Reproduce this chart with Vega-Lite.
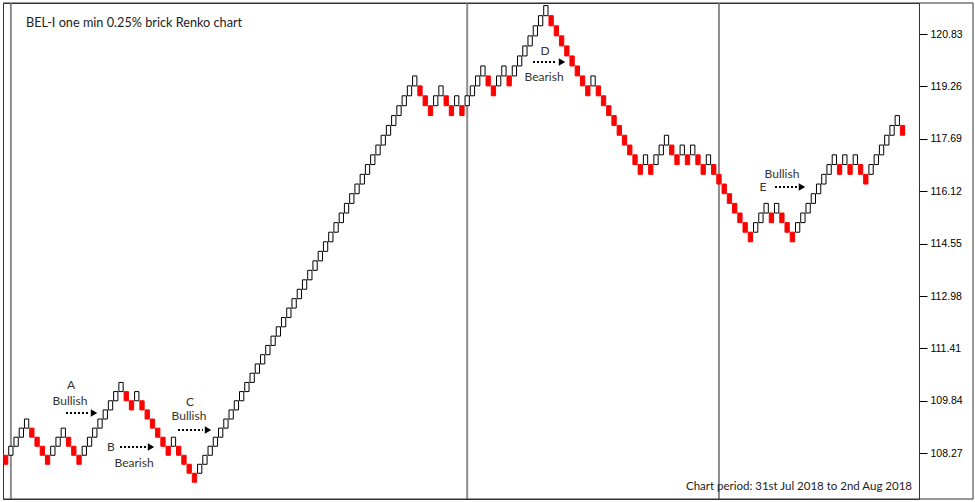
{
  "$schema": "https://vega.github.io/schema/vega-lite/v6.json",
  "width": 916,
  "height": 496,
  "autosize": "none",
  "padding": {"left": 3, "top": 3, "right": 56, "bottom": 3},
  "background": "white",
  "config": {"view": {"stroke": "#333333", "strokeWidth": 1}, "scale": {"continuousPadding": 0}},
  "datasets": {
    "bricks": [
      {"n":1,"lo":107.94,"hi":108.21,"d":"d"},
      {"n":2,"lo":108.21,"hi":108.48,"d":"u"},
      {"n":3,"lo":108.48,"hi":108.751,"d":"u"},
      {"n":4,"lo":108.751,"hi":109.023,"d":"u"},
      {"n":5,"lo":109.023,"hi":109.296,"d":"u"},
      {"n":6,"lo":108.751,"hi":109.023,"d":"d"},
      {"n":7,"lo":108.48,"hi":108.751,"d":"d"},
      {"n":8,"lo":108.21,"hi":108.48,"d":"d"},
      {"n":9,"lo":107.94,"hi":108.21,"d":"d"},
      {"n":10,"lo":108.21,"hi":108.48,"d":"u"},
      {"n":11,"lo":108.48,"hi":108.751,"d":"u"},
      {"n":12,"lo":108.751,"hi":109.023,"d":"u"},
      {"n":13,"lo":108.48,"hi":108.751,"d":"d"},
      {"n":14,"lo":108.21,"hi":108.48,"d":"d"},
      {"n":15,"lo":107.94,"hi":108.21,"d":"d"},
      {"n":16,"lo":108.21,"hi":108.48,"d":"u"},
      {"n":17,"lo":108.48,"hi":108.751,"d":"u"},
      {"n":18,"lo":108.751,"hi":109.023,"d":"u"},
      {"n":19,"lo":109.023,"hi":109.296,"d":"u"},
      {"n":20,"lo":109.296,"hi":109.569,"d":"u"},
      {"n":21,"lo":109.569,"hi":109.843,"d":"u"},
      {"n":22,"lo":109.843,"hi":110.118,"d":"u"},
      {"n":23,"lo":110.118,"hi":110.393,"d":"u"},
      {"n":24,"lo":109.843,"hi":110.118,"d":"d"},
      {"n":25,"lo":109.569,"hi":109.843,"d":"d"},
      {"n":26,"lo":109.843,"hi":110.118,"d":"u"},
      {"n":27,"lo":109.569,"hi":109.843,"d":"d"},
      {"n":28,"lo":109.296,"hi":109.569,"d":"d"},
      {"n":29,"lo":109.023,"hi":109.296,"d":"d"},
      {"n":30,"lo":108.751,"hi":109.023,"d":"d"},
      {"n":31,"lo":108.48,"hi":108.751,"d":"d"},
      {"n":32,"lo":108.21,"hi":108.48,"d":"d"},
      {"n":33,"lo":108.48,"hi":108.751,"d":"u"},
      {"n":34,"lo":108.21,"hi":108.48,"d":"d"},
      {"n":35,"lo":107.94,"hi":108.21,"d":"d"},
      {"n":36,"lo":107.671,"hi":107.94,"d":"d"},
      {"n":37,"lo":107.402,"hi":107.671,"d":"d"},
      {"n":38,"lo":107.671,"hi":107.94,"d":"u"},
      {"n":39,"lo":107.94,"hi":108.21,"d":"u"},
      {"n":40,"lo":108.21,"hi":108.48,"d":"u"},
      {"n":41,"lo":108.48,"hi":108.751,"d":"u"},
      {"n":42,"lo":108.751,"hi":109.023,"d":"u"},
      {"n":43,"lo":109.023,"hi":109.296,"d":"u"},
      {"n":44,"lo":109.296,"hi":109.569,"d":"u"},
      {"n":45,"lo":109.569,"hi":109.843,"d":"u"},
      {"n":46,"lo":109.843,"hi":110.118,"d":"u"},
      {"n":47,"lo":110.118,"hi":110.393,"d":"u"},
      {"n":48,"lo":110.393,"hi":110.669,"d":"u"},
      {"n":49,"lo":110.669,"hi":110.946,"d":"u"},
      {"n":50,"lo":110.946,"hi":111.223,"d":"u"},
      {"n":51,"lo":111.223,"hi":111.501,"d":"u"},
      {"n":52,"lo":111.501,"hi":111.78,"d":"u"},
      {"n":53,"lo":111.78,"hi":112.059,"d":"u"},
      {"n":54,"lo":112.059,"hi":112.339,"d":"u"},
      {"n":55,"lo":112.339,"hi":112.62,"d":"u"},
      {"n":56,"lo":112.62,"hi":112.902,"d":"u"},
      {"n":57,"lo":112.902,"hi":113.184,"d":"u"},
      {"n":58,"lo":113.184,"hi":113.467,"d":"u"},
      {"n":59,"lo":113.467,"hi":113.751,"d":"u"},
      {"n":60,"lo":113.751,"hi":114.035,"d":"u"},
      {"n":61,"lo":114.035,"hi":114.32,"d":"u"},
      {"n":62,"lo":114.32,"hi":114.606,"d":"u"},
      {"n":63,"lo":114.606,"hi":114.893,"d":"u"},
      {"n":64,"lo":114.893,"hi":115.18,"d":"u"},
      {"n":65,"lo":115.18,"hi":115.468,"d":"u"},
      {"n":66,"lo":115.468,"hi":115.757,"d":"u"},
      {"n":67,"lo":115.757,"hi":116.046,"d":"u"},
      {"n":68,"lo":116.046,"hi":116.336,"d":"u"},
      {"n":69,"lo":116.336,"hi":116.627,"d":"u"},
      {"n":70,"lo":116.627,"hi":116.919,"d":"u"},
      {"n":71,"lo":116.919,"hi":117.211,"d":"u"},
      {"n":72,"lo":117.211,"hi":117.504,"d":"u"},
      {"n":73,"lo":117.504,"hi":117.798,"d":"u"},
      {"n":74,"lo":117.798,"hi":118.092,"d":"u"},
      {"n":75,"lo":118.092,"hi":118.387,"d":"u"},
      {"n":76,"lo":118.387,"hi":118.683,"d":"u"},
      {"n":77,"lo":118.683,"hi":118.98,"d":"u"},
      {"n":78,"lo":118.98,"hi":119.277,"d":"u"},
      {"n":79,"lo":119.277,"hi":119.575,"d":"u"},
      {"n":80,"lo":118.98,"hi":119.277,"d":"d"},
      {"n":81,"lo":118.683,"hi":118.98,"d":"d"},
      {"n":82,"lo":118.387,"hi":118.683,"d":"d"},
      {"n":83,"lo":118.683,"hi":118.98,"d":"u"},
      {"n":84,"lo":118.98,"hi":119.277,"d":"u"},
      {"n":85,"lo":118.683,"hi":118.98,"d":"d"},
      {"n":86,"lo":118.387,"hi":118.683,"d":"d"},
      {"n":87,"lo":118.683,"hi":118.98,"d":"u"},
      {"n":88,"lo":118.387,"hi":118.683,"d":"d"},
      {"n":89,"lo":118.683,"hi":118.98,"d":"u"},
      {"n":90,"lo":118.98,"hi":119.277,"d":"u"},
      {"n":91,"lo":119.277,"hi":119.575,"d":"u"},
      {"n":92,"lo":119.575,"hi":119.874,"d":"u"},
      {"n":93,"lo":119.277,"hi":119.575,"d":"d"},
      {"n":94,"lo":118.98,"hi":119.277,"d":"d"},
      {"n":95,"lo":119.277,"hi":119.575,"d":"u"},
      {"n":96,"lo":119.575,"hi":119.874,"d":"u"},
      {"n":97,"lo":119.277,"hi":119.575,"d":"d"},
      {"n":98,"lo":119.575,"hi":119.874,"d":"u"},
      {"n":99,"lo":119.874,"hi":120.174,"d":"u"},
      {"n":100,"lo":120.174,"hi":120.474,"d":"u"},
      {"n":101,"lo":120.474,"hi":120.775,"d":"u"},
      {"n":102,"lo":120.775,"hi":121.077,"d":"u"},
      {"n":103,"lo":121.077,"hi":121.38,"d":"u"},
      {"n":104,"lo":121.38,"hi":121.683,"d":"u"},
      {"n":105,"lo":121.077,"hi":121.38,"d":"d"},
      {"n":106,"lo":120.775,"hi":121.077,"d":"d"},
      {"n":107,"lo":120.474,"hi":120.775,"d":"d"},
      {"n":108,"lo":120.174,"hi":120.474,"d":"d"},
      {"n":109,"lo":119.874,"hi":120.174,"d":"d"},
      {"n":110,"lo":119.575,"hi":119.874,"d":"d"},
      {"n":111,"lo":119.277,"hi":119.575,"d":"d"},
      {"n":112,"lo":118.98,"hi":119.277,"d":"d"},
      {"n":113,"lo":119.277,"hi":119.575,"d":"u"},
      {"n":114,"lo":118.98,"hi":119.277,"d":"d"},
      {"n":115,"lo":118.683,"hi":118.98,"d":"d"},
      {"n":116,"lo":118.387,"hi":118.683,"d":"d"},
      {"n":117,"lo":118.092,"hi":118.387,"d":"d"},
      {"n":118,"lo":117.798,"hi":118.092,"d":"d"},
      {"n":119,"lo":117.504,"hi":117.798,"d":"d"},
      {"n":120,"lo":117.211,"hi":117.504,"d":"d"},
      {"n":121,"lo":116.919,"hi":117.211,"d":"d"},
      {"n":122,"lo":116.627,"hi":116.919,"d":"d"},
      {"n":123,"lo":116.919,"hi":117.211,"d":"u"},
      {"n":124,"lo":116.627,"hi":116.919,"d":"d"},
      {"n":125,"lo":116.919,"hi":117.211,"d":"u"},
      {"n":126,"lo":117.211,"hi":117.504,"d":"u"},
      {"n":127,"lo":117.504,"hi":117.798,"d":"u"},
      {"n":128,"lo":117.211,"hi":117.504,"d":"d"},
      {"n":129,"lo":116.919,"hi":117.211,"d":"d"},
      {"n":130,"lo":117.211,"hi":117.504,"d":"u"},
      {"n":131,"lo":116.919,"hi":117.211,"d":"d"},
      {"n":132,"lo":117.211,"hi":117.504,"d":"u"},
      {"n":133,"lo":116.919,"hi":117.211,"d":"d"},
      {"n":134,"lo":116.627,"hi":116.919,"d":"d"},
      {"n":135,"lo":116.919,"hi":117.211,"d":"u"},
      {"n":136,"lo":116.627,"hi":116.919,"d":"d"},
      {"n":137,"lo":116.336,"hi":116.627,"d":"d"},
      {"n":138,"lo":116.046,"hi":116.336,"d":"d"},
      {"n":139,"lo":115.757,"hi":116.046,"d":"d"},
      {"n":140,"lo":115.468,"hi":115.757,"d":"d"},
      {"n":141,"lo":115.18,"hi":115.468,"d":"d"},
      {"n":142,"lo":114.893,"hi":115.18,"d":"d"},
      {"n":143,"lo":114.606,"hi":114.893,"d":"d"},
      {"n":144,"lo":114.893,"hi":115.18,"d":"u"},
      {"n":145,"lo":115.18,"hi":115.468,"d":"u"},
      {"n":146,"lo":115.468,"hi":115.757,"d":"u"},
      {"n":147,"lo":115.18,"hi":115.468,"d":"d"},
      {"n":148,"lo":115.468,"hi":115.757,"d":"u"},
      {"n":149,"lo":115.18,"hi":115.468,"d":"d"},
      {"n":150,"lo":114.893,"hi":115.18,"d":"d"},
      {"n":151,"lo":114.606,"hi":114.893,"d":"d"},
      {"n":152,"lo":114.893,"hi":115.18,"d":"u"},
      {"n":153,"lo":115.18,"hi":115.468,"d":"u"},
      {"n":154,"lo":115.468,"hi":115.757,"d":"u"},
      {"n":155,"lo":115.757,"hi":116.046,"d":"u"},
      {"n":156,"lo":116.046,"hi":116.336,"d":"u"},
      {"n":157,"lo":116.336,"hi":116.627,"d":"u"},
      {"n":158,"lo":116.627,"hi":116.919,"d":"u"},
      {"n":159,"lo":116.919,"hi":117.211,"d":"u"},
      {"n":160,"lo":116.627,"hi":116.919,"d":"d"},
      {"n":161,"lo":116.919,"hi":117.211,"d":"u"},
      {"n":162,"lo":116.627,"hi":116.919,"d":"d"},
      {"n":163,"lo":116.919,"hi":117.211,"d":"u"},
      {"n":164,"lo":116.627,"hi":116.919,"d":"d"},
      {"n":165,"lo":116.336,"hi":116.627,"d":"d"},
      {"n":166,"lo":116.627,"hi":116.919,"d":"u"},
      {"n":167,"lo":116.919,"hi":117.211,"d":"u"},
      {"n":168,"lo":117.211,"hi":117.504,"d":"u"},
      {"n":169,"lo":117.504,"hi":117.798,"d":"u"},
      {"n":170,"lo":117.798,"hi":118.092,"d":"u"},
      {"n":171,"lo":118.092,"hi":118.387,"d":"u"},
      {"n":172,"lo":117.798,"hi":118.092,"d":"d"}
    ],
    "days": [{"n": 2}, {"n": 89}, {"n": 137}],
    "frame": [
      {"x1": 0.5, "x2": 185.44, "y1": 121.76, "y2": 121.76},
      {"x1": 0.5, "x2": 185.44, "y1": 106.9, "y2": 106.9},
      {"x1": 185.44, "x2": 185.44, "y1": 106.9, "y2": 121.76}
    ],
    "arrows": [
      {"a": "A", "x1": 12.51, "x2": 16.9, "y": 109.476, "hx": 17.85},
      {"a": "B", "x1": 22.81, "x2": 27.76, "y": 108.458, "hx": 28.72},
      {"a": "C", "x1": 33.87, "x2": 38.63, "y": 108.967, "hx": 39.59},
      {"a": "D", "x1": 101.55, "x2": 106.12, "y": 119.992, "hx": 107.08},
      {"a": "E", "x1": 147.69, "x2": 151.88, "y": 116.247, "hx": 152.83}
    ],
    "labels": [
      {"t": "A", "x": 13.46, "y": 110.315},
      {"t": "Bullish", "x": 13.27, "y": 109.836},
      {"t": "B", "x": 21.09, "y": 108.458},
      {"t": "Bearish", "x": 25.48, "y": 107.978},
      {"t": "C", "x": 36.15, "y": 109.806},
      {"t": "Bullish", "x": 35.96, "y": 109.387},
      {"t": "D", "x": 103.84, "y": 120.322},
      {"t": "Bearish", "x": 103.65, "y": 119.543},
      {"t": "Bullish", "x": 149.02, "y": 116.637},
      {"t": "E", "x": 145.4, "y": 116.247}
    ],
    "titles": [{"t": "BEL-I one min 0.25% brick Renko chart", "x": 4.885, "y": 121.161}],
    "periods": [{"t": "Chart period: 31st Jul 2018 to 2nd Aug 2018", "x": 173.81, "y": 107.259}]
  },
  "layer": [
    {
      "data": {"name": "days"},
      "mark": {"type": "rule", "color": "#8c8c8c", "strokeWidth": 2},
      "encoding": {
        "x": {"field": "n", "type": "quantitative", "scale": {"domain": [0.5, 175.14], "nice": false, "zero": false, "padding": 0}, "axis": null}
      }
    },
    {
      "data": {"name": "bricks"},
      "mark": {"type": "bar", "size": 4.3, "strokeWidth": 1},
      "encoding": {
        "x": {"field": "n", "type": "quantitative", "scale": {"domain": [0.5, 175.14], "nice": false, "zero": false, "padding": 0}, "axis": null},
        "y": {"field": "lo", "type": "quantitative", "scale": {"domain": [106.9, 121.76], "nice": false, "zero": false, "padding": 0},
          "axis": {"orient": "right", "values": [108.27, 109.84, 111.41, 112.98, 114.55, 116.12, 117.69, 119.26, 120.83], "format": ".2f", "title": null, "grid": false, "domain": false, "ticks": true, "tickSize": 8, "tickColor": "#000000", "tickWidth": 1, "labelFont": "Liberation Sans", "labelFontSize": 10.5, "labelColor": "#000000", "labelPadding": 3, "labelOverlap": false, "labelFlush": false}},
        "y2": {"field": "hi"},
        "fill": {"field": "d", "type": "nominal", "scale": {"domain": ["u", "d"], "range": ["#ffffff", "#ff0000"]}, "legend": null},
        "stroke": {"field": "d", "type": "nominal", "scale": {"domain": ["u", "d"], "range": ["#000000", "#ff0000"]}, "legend": null}
      }
    },
    {
      "data": {"name": "frame"},
      "mark": {"type": "rule", "color": "#333333", "strokeWidth": 1},
      "encoding": {
        "x": {"field": "x1", "type": "quantitative", "scale": {"domain": [0.5, 175.14], "nice": false, "zero": false, "padding": 0}, "axis": null},
        "x2": {"field": "x2"},
        "y": {"field": "y1", "type": "quantitative", "scale": {"domain": [106.9, 121.76], "nice": false, "zero": false, "padding": 0}},
        "y2": {"field": "y2"}
      }
    },
    {
      "data": {"name": "arrows"},
      "mark": {"type": "rule", "color": "#000000", "strokeWidth": 2, "strokeDash": [2, 2]},
      "encoding": {
        "x": {"field": "x1", "type": "quantitative", "scale": {"domain": [0.5, 175.14], "nice": false, "zero": false, "padding": 0}, "axis": null},
        "x2": {"field": "x2"},
        "y": {"field": "y", "type": "quantitative", "scale": {"domain": [106.9, 121.76], "nice": false, "zero": false, "padding": 0}}
      }
    },
    {
      "data": {"name": "arrows"},
      "mark": {"type": "point", "shape": "triangle-right", "filled": true, "color": "#000000", "size": 55, "opacity": 1},
      "encoding": {
        "x": {"field": "hx", "type": "quantitative", "scale": {"domain": [0.5, 175.14], "nice": false, "zero": false, "padding": 0}, "axis": null},
        "y": {"field": "y", "type": "quantitative", "scale": {"domain": [106.9, 121.76], "nice": false, "zero": false, "padding": 0}}
      }
    },
    {
      "data": {"name": "labels"},
      "mark": {"type": "text", "font": "Lato", "fontSize": 12, "color": "#333333", "align": "center", "baseline": "middle"},
      "encoding": {
        "x": {"field": "x", "type": "quantitative", "scale": {"domain": [0.5, 175.14], "nice": false, "zero": false, "padding": 0}, "axis": null},
        "y": {"field": "y", "type": "quantitative", "scale": {"domain": [106.9, 121.76], "nice": false, "zero": false, "padding": 0}},
        "text": {"field": "t"}
      }
    },
    {
      "data": {"name": "titles"},
      "mark": {"type": "text", "font": "Lato", "fontSize": 12.7, "color": "#222222", "align": "left", "baseline": "middle"},
      "encoding": {
        "x": {"field": "x", "type": "quantitative", "scale": {"domain": [0.5, 175.14], "nice": false, "zero": false, "padding": 0}, "axis": null},
        "y": {"field": "y", "type": "quantitative", "scale": {"domain": [106.9, 121.76], "nice": false, "zero": false, "padding": 0}},
        "text": {"field": "t"}
      }
    },
    {
      "data": {"name": "periods"},
      "mark": {"type": "text", "font": "Lato", "fontSize": 11.5, "color": "#222222", "align": "right", "baseline": "middle"},
      "encoding": {
        "x": {"field": "x", "type": "quantitative", "scale": {"domain": [0.5, 175.14], "nice": false, "zero": false, "padding": 0}, "axis": null},
        "y": {"field": "y", "type": "quantitative", "scale": {"domain": [106.9, 121.76], "nice": false, "zero": false, "padding": 0}},
        "text": {"field": "t"}
      }
    }
  ]
}
